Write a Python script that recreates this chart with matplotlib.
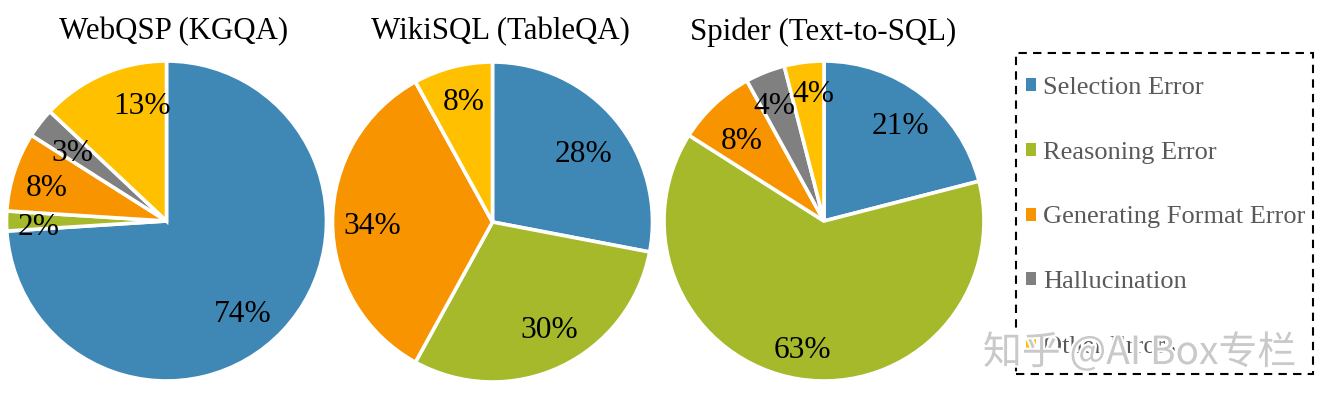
import matplotlib
matplotlib.use("Agg")
import matplotlib.pyplot as plt
from matplotlib.patches import Patch, Rectangle
import matplotlib.patheffects as pe

plt.rcParams['font.family'] = ['Liberation Serif', 'DejaVu Serif']

W, H = 1332, 404

categories = ["Selection Error", "Reasoning Error", "Generating Format Error", "Hallucination", "Other Errors"]
colors = ["#3F88B5", "#A5B92A", "#F79400", "#808080", "#FFC000"]

titles = ["WebQSP (KGQA)", "WikiSQL (TableQA)", "Spider (Text-to-SQL)"]
webqsp = [74, 2, 8, 3, 13]
wikisql = [28, 30, 34, 0, 8]
spider = [21, 63, 8, 4, 4]
all_values = [webqsp, wikisql, spider]

# pie centre in pixels, radius, and where each percent label sits (pixels)
centres = [(166.5, 221), (492.5, 222), (824, 221)]
title_x = [174, 500, 823]
R = 160
TEXT_DROP = 4  # va='center' sits a little high for this font
label_pos = [
    [(243, 311), (39, 224), (47, 185), (72, 150), (142, 103)],
    [(584, 151), (549, 326), (372, 223), None, (464, 99)],
    [(900, 123), (802, 346), (742, 138), (774, 103), (813, 91)],
]

fig = plt.figure(figsize=(W / 100, H / 100), dpi=100, facecolor='white')

for values, c, title, tx, pos in zip(all_values, centres, titles, title_x, label_pos):
    ax = fig.add_axes([(c[0] - R) / W, 1 - (c[1] + R) / H, 2 * R / W, 2 * R / H])
    ax.pie(values, colors=colors, startangle=90, counterclock=False, radius=1,
           wedgeprops=dict(edgecolor='white', linewidth=2.6, clip_on=False))
    ax.set_xlim(-1, 1)
    ax.set_ylim(-1, 1)
    for v, p in zip(values, pos):
        if p is None:
            continue
        ax.text((p[0] - c[0]) / R, (c[1] - p[1] - TEXT_DROP) / R, "%d%%" % v, ha='center', va='center',
                fontsize=22.6, color='black', clip_on=False)
    fig.text(tx / W, 1 - (28 + TEXT_DROP) / H, title, ha='center', va='center', fontsize=22.2, color='black')

# dashed box round the legend
fig.add_artist(Rectangle((1016 / W, 1 - 374 / H), 297 / W, 321 / H, transform=fig.transFigure,
                         facecolor='none', edgecolor='black', linewidth=1.5, linestyle=(0, (4, 3))))

handles = [Patch(facecolor=col, edgecolor='none') for col in colors]
leg = fig.legend(handles, categories, loc='upper left', bbox_to_anchor=(1026 / W, 1 - 77 / H),
                 fontsize=19, labelcolor='#595959', frameon=False, borderaxespad=0, borderpad=0,
                 handlelength=0.38, handleheight=0.38, handletextpad=0.27, labelspacing=1.62)

# watermark over the last legend row
fig.text(1139.5 / W, 1 - (349 + TEXT_DROP) / H, "知乎 @AI Box专栏", ha='center', va='center', fontsize=28,
         family=['Noto Sans CJK SC', 'DejaVu Sans'], color='#c9c9c9', zorder=10,
         path_effects=[pe.withStroke(linewidth=3, foreground='white')])

fig.savefig("out.png", dpi=100)
